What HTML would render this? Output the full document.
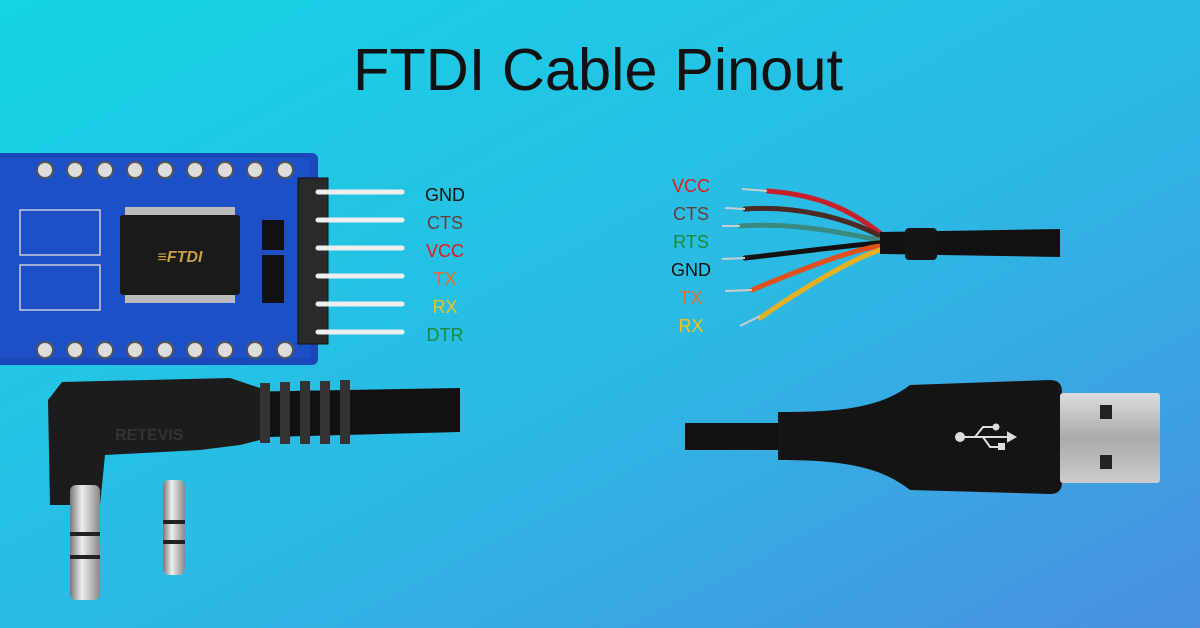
<!DOCTYPE html>
<html><head><meta charset="utf-8"><style>
html,body{margin:0;padding:0;width:1200px;height:628px;overflow:hidden}
svg{display:block}
text{font-family:"Liberation Sans",sans-serif}
</style></head><body>
<svg width="1200" height="628" viewBox="0 0 1200 628" xmlns="http://www.w3.org/2000/svg">
<defs>
<linearGradient id="bg" x1="0" y1="0" x2="1" y2="1">
<stop offset="0" stop-color="#15d4e4"/><stop offset="0.55" stop-color="#2cb9e4"/><stop offset="1" stop-color="#4a8fe0"/>
</linearGradient>
<linearGradient id="metal" x1="0" y1="0" x2="1" y2="0">
<stop offset="0" stop-color="#777"/><stop offset="0.4" stop-color="#eee"/><stop offset="1" stop-color="#888"/>
</linearGradient>
<linearGradient id="plug" x1="0" y1="0" x2="0" y2="1">
<stop offset="0" stop-color="#ddd"/><stop offset="0.5" stop-color="#aaa"/><stop offset="1" stop-color="#ccc"/>
</linearGradient>
</defs>
<rect width="1200" height="628" fill="url(#bg)"/>
<text x="598" y="90" font-size="59" text-anchor="middle" fill="#111" textLength="490" lengthAdjust="spacingAndGlyphs">FTDI Cable Pinout</text>

<!-- board -->
<rect x="-5" y="153" width="323" height="212" rx="6" fill="#1a48b8"/>
<rect x="0" y="158" width="310" height="200" fill="#1d50c6"/>
<g fill="#ddd" stroke="#555" stroke-width="2">
<circle cx="45" cy="170" r="8"/><circle cx="75" cy="170" r="8"/><circle cx="105" cy="170" r="8"/><circle cx="135" cy="170" r="8"/><circle cx="165" cy="170" r="8"/><circle cx="195" cy="170" r="8"/><circle cx="225" cy="170" r="8"/><circle cx="255" cy="170" r="8"/><circle cx="285" cy="170" r="8"/>
<circle cx="45" cy="350" r="8"/><circle cx="75" cy="350" r="8"/><circle cx="105" cy="350" r="8"/><circle cx="135" cy="350" r="8"/><circle cx="165" cy="350" r="8"/><circle cx="195" cy="350" r="8"/><circle cx="225" cy="350" r="8"/><circle cx="255" cy="350" r="8"/><circle cx="285" cy="350" r="8"/>
</g>
<rect x="120" y="215" width="120" height="80" rx="3" fill="#1a1a1a"/>
<g fill="#bbb"><rect x="125" y="207" width="110" height="8"/><rect x="125" y="295" width="110" height="8"/></g>
<text x="180" y="262" font-size="16" font-style="italic" font-weight="bold" fill="#c9a040" text-anchor="middle">≡FTDI</text>
<rect x="20" y="210" width="80" height="45" fill="none" stroke="#ccd" stroke-width="1.5"/>
<rect x="20" y="265" width="80" height="45" fill="none" stroke="#ccd" stroke-width="1.5"/>
<rect x="262" y="220" width="22" height="30" fill="#111"/>
<rect x="262" y="255" width="22" height="48" fill="#111"/>
<g fill="#2a2a2a" stroke="#111">
<rect x="298" y="178" width="30" height="166"/>
</g>
<g stroke="#eee" stroke-width="5" stroke-linecap="round">
<line x1="318" y1="192" x2="402" y2="192"/><line x1="318" y1="220" x2="402" y2="220"/><line x1="318" y1="248" x2="402" y2="248"/><line x1="318" y1="276" x2="402" y2="276"/><line x1="318" y1="304" x2="402" y2="304"/><line x1="318" y1="332" x2="402" y2="332"/>
</g>
<g font-size="18" text-anchor="middle">
<text x="445" y="201" fill="#111">GND</text>
<text x="445" y="229" fill="#6b3b3b">CTS</text>
<text x="445" y="257" fill="#e81818">VCC</text>
<text x="445" y="285" fill="#f06a1c">TX</text>
<text x="445" y="313" fill="#f2c21a">RX</text>
<text x="445" y="341" fill="#1a8a3a">DTR</text>
</g>

<!-- radio cable -->
<path d="M230 392 L460 388 L460 432 L230 438 Z" fill="#111"/>
<path d="M62 382 L230 378 L260 388 L260 440 L240 445 L200 450 L105 455 L100 505 L50 505 L48 400 Z" fill="#1c1c1c"/>
<g fill="#333"><rect x="260" y="383" width="10" height="60"/><rect x="280" y="382" width="10" height="62"/><rect x="300" y="381" width="10" height="63"/><rect x="320" y="381" width="10" height="63"/><rect x="340" y="380" width="10" height="64"/></g>
<text x="115" y="440" font-size="16" font-weight="bold" fill="#333">RETEVIS</text>
<rect x="70" y="485" width="30" height="115" rx="6" fill="url(#metal)"/>
<rect x="163" y="480" width="22" height="95" rx="6" fill="url(#metal)"/>
<g fill="#222"><rect x="70" y="532" width="30" height="4"/><rect x="70" y="555" width="30" height="4"/><rect x="163" y="520" width="22" height="4"/><rect x="163" y="540" width="22" height="4"/></g>

<!-- wires -->
<g fill="none" stroke-width="5" stroke-linecap="round">
<path d="M768 191 C820 195 850 210 880 233" stroke="#c8202a"/>
<path d="M745 209 C800 205 850 220 880 236" stroke="#4a2a22"/>
<path d="M740 226 C800 222 850 235 880 240" stroke="#3a8a80"/>
<path d="M745 258 C800 252 850 245 880 243" stroke="#111"/>
<path d="M752 290 C800 270 850 250 880 246" stroke="#e0501c"/>
<path d="M760 318 C800 290 850 260 880 250" stroke="#e8b020"/>
</g>
<g stroke="#ccc" stroke-width="2">
<line x1="742" y1="189" x2="767" y2="191"/><line x1="725" y1="208" x2="745" y2="209"/><line x1="722" y1="226" x2="740" y2="226"/><line x1="722" y1="259" x2="745" y2="258"/><line x1="725" y1="291" x2="752" y2="290"/><line x1="740" y1="326" x2="760" y2="316"/>
</g>
<path d="M880 232 L1060 229 L1060 257 L880 254 Z" fill="#111"/>
<rect x="905" y="228" width="32" height="32" rx="4" fill="#151515"/>
<g font-size="18" text-anchor="middle">
<text x="691" y="192" fill="#e81818">VCC</text>
<text x="691" y="220" fill="#6b3b3b">CTS</text>
<text x="691" y="248" fill="#1a8a3a">RTS</text>
<text x="691" y="276" fill="#111">GND</text>
<text x="691" y="304" fill="#f06a1c">TX</text>
<text x="691" y="332" fill="#f2c21a">RX</text>
</g>

<!-- usb -->
<rect x="685" y="423" width="100" height="27" fill="#111"/>
<path d="M778 412 C840 412 880 408 910 385 L1050 380 Q1062 380 1062 392 L1062 482 Q1062 494 1050 494 L910 490 C880 466 840 460 778 460 Z" fill="#141414"/>
<rect x="1060" y="393" width="100" height="90" rx="3" fill="url(#plug)"/>
<rect x="1100" y="405" width="12" height="14" fill="#222"/>
<rect x="1100" y="455" width="12" height="14" fill="#222"/>
<g stroke="#ddd" stroke-width="2" fill="#ddd">
<line x1="960" y1="437" x2="1015" y2="437"/>
<circle cx="960" cy="437" r="4"/>
<path d="M1015 437 l-7 -4 v8 z"/>
<polyline points="975,437 983,427 995,427" fill="none"/><circle cx="996" cy="427" r="2.5"/>
<polyline points="983,437 990,447 1000,447" fill="none"/><rect x="999" y="444" width="5" height="5"/>
</g>
</svg>
</body></html>
